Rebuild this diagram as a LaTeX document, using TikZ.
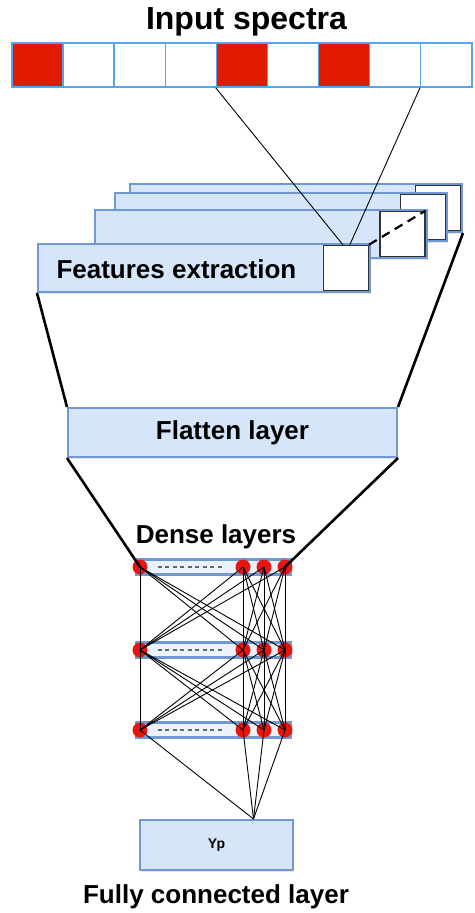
\documentclass[tikz,border=0pt]{standalone}
\usepackage{fontspec}
\setmainfont{Liberation Sans}
\usepackage{tikz}
\usetikzlibrary{positioning, shadows}

\definecolor{boxfill}{HTML}{D6E6FA}
\definecolor{boxline}{HTML}{7099D4}
\definecolor{cellline}{HTML}{55A5EE}
\definecolor{spred}{HTML}{E21A00}
\definecolor{dotred}{HTML}{E8160E}

\begin{document}
\begin{tikzpicture}[
    x=1pt, y=-1pt,
    cell/.style={draw=cellline, line width=1.4pt, minimum width=51.1pt, minimum height=44pt, inner sep=0pt},
    layer/.style={draw=boxline, fill=boxfill, line width=2pt, inner sep=0pt, drop shadow={opacity=0.2, shadow xshift=1pt, shadow yshift=-2pt}},
    fe/.style={layer, minimum width=332pt, minimum height=48pt},
    kernel/.style={draw=black!80, fill=white, line width=1.3pt, minimum size=45pt, inner sep=0pt},
    bar/.style={draw=boxline, fill=boxfill!50, line width=2.5pt, minimum width=155pt, minimum height=15pt, inner sep=0pt},
    unit/.style={circle, fill=dotred, minimum size=15pt, inner sep=0pt},
    lbl/.style={font=\bfseries\fontsize{26}{30}\selectfont},
    link/.style={line width=0.9pt},
    funnel/.style={line width=2.6pt},
]
\useasboundingbox (0,0) rectangle (474,913);

% Top: input spectra
\node[font=\bfseries\fontsize{32}{36}\selectfont, anchor=base] (title) at (246.5,29) {Input spectra};
\foreach \i/\c in {0/spred,1/white,2/white,3/white,4/spred,5/white,6/spred,7/white,8/white}
    \node[cell, fill=\c] (cell\i) at ({37.5+51.1*\i},65) {};

% Feature maps (back to front)
\foreach \k/\cx/\cy in {4/296/208, 3/281/217, 2/260.5/234, 1/204/268} {
    \node[fe] (fe\k) at (\cx,\cy) {};
    \node[kernel, anchor=south east] (sq\k) at ([xshift=-2pt, yshift=2pt]fe\k.south east) {};
}
\node[lbl, anchor=base west] (felbl) at (53,278) {Features extraction};
\draw[line width=2.2pt, dash pattern=on 9pt off 6pt] (sq1.north east) -- (sq2.north east);

\draw[link] (cell4.south west) -- ([xshift=-3pt]sq1.north);
\draw[link] (cell8.south west) -- ([xshift=4pt]sq1.north);

% Flatten
\node[layer, lbl, minimum width=329pt, minimum height=49pt] (flat) at (232.5,432.5) {Flatten layer};
\draw[funnel] (fe1.south west) -- (flat.north west);
\draw[funnel] (fe4.south east) -- (flat.north east);

% Dense layers
\node[lbl, anchor=base] (denselbl) at (216,543) {Dense layers};
\foreach \r/\y in {1/567, 2/650, 3/730} {
    \node[bar] (bar\r) at (213.5,\y) {};
    \foreach \i/\x in {1/140, 2/243, 3/264, 4/285}
        \node[unit] (d\r\i) at (\x,\y) {};
    \draw[black!60, line width=1.5pt, dash pattern=on 4pt off 3.5pt, shorten <=10pt, shorten >=12pt] (d\r1) -- (d\r2);
}
\draw[funnel] (flat.south west) -- (d11.center);
\draw[funnel] (flat.south east) -- (d14.center);

\foreach \r/\s in {1/2, 2/3}
    \foreach \i in {1,...,4}
        \foreach \j in {1,...,4}
            \draw[link] (d\r\i.center) -- (d\s\j.center);

% Output
\node[layer, minimum width=153pt, minimum height=50pt, font=\bfseries\fontsize{14}{16}\selectfont] (yp) at (216.5,845) {Yp};
\coordinate (ypin) at ([xshift=37pt]yp.north);
\foreach \j in {1,...,4}
    \draw[link] (d3\j.center) -- (ypin);
\node[lbl, anchor=base] (fclbl) at (216,903) {Fully connected layer};

\end{tikzpicture}
\end{document}
